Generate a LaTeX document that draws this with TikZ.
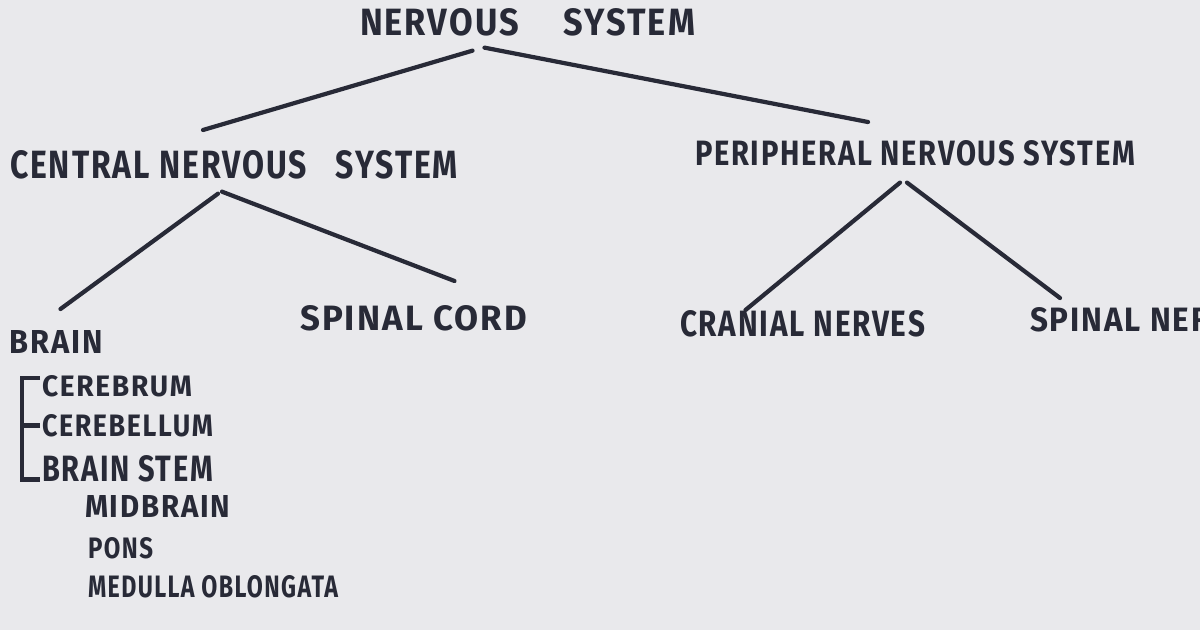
\documentclass[tikz,border=0pt]{standalone}
\usepackage{fontspec}
\usepackage{graphicx}
\setmainfont{Fira Sans}[LetterSpace=6]
\usetikzlibrary{calc}
\newlength\px
\setlength\px{0.01cm}
\newcommand{\lbl}[3]{\resizebox{#1\px}{#2\px}{\bfseries #3}}
\definecolor{paper}{RGB}{233,233,236}
\definecolor{ink}{RGB}{40,42,55}
\tikzset{
  lab/.style={anchor=north west, inner sep=0pt, outer sep=0pt, text=ink},
  wire/.style={draw=ink, line width=1.2pt, line cap=round},
  brk/.style={draw=ink, line width=1.3pt}
}
\begin{document}
\begin{tikzpicture}[x=0.01cm,y=-0.01cm]
\fill[paper] (0,0) rectangle (1200,630);
\useasboundingbox (0,0) rectangle (1200,630);
\clip (0,0) rectangle (1200,630);
% labels
\node[lab] (ns) at (360,8) {\lbl{335}{27}{NERVOUS\hspace{1.3em}SYSTEM}};
\node[lab] (cns) at (10,150) {\lbl{448}{28}{CENTRAL NERVOUS\hspace{0.9em}SYSTEM}};
\node[lab] (pns) at (695,140) {\lbl{440}{25}{PERIPHERAL NERVOUS SYSTEM}};
\node[lab] (brain) at (10,330) {\lbl{93}{23}{BRAIN}};
\node[lab] (sc) at (300,305) {\lbl{227}{25}{SPINAL CORD}};
\node[lab] (cn) at (680,310) {\lbl{245}{26}{CRANIAL NERVES}};
\node[lab] (sn) at (1030,307) {\lbl{238}{24}{SPINAL NERVES}};
\node[lab] (cbr) at (42,375) {\lbl{150}{21}{CEREBRUM}};
\node[lab] (cbl) at (42,414) {\lbl{171}{22}{CEREBELLUM}};
\node[lab] (bst) at (42,455) {\lbl{171}{26}{BRAIN STEM}};
\node[lab] (mid) at (85,495) {\lbl{145}{22}{MIDBRAIN}};
\node[lab] (pons) at (88,537) {\lbl{65}{21}{PONS}};
\node[lab] (med) at (88,575) {\lbl{250}{22}{MEDULLA OBLONGATA}};
% connectors
\draw[wire] ([shift={(-55,15)}]ns.south) -- ([shift={(-31,-20)}]cns.north);
\draw[wire] ([shift={(-43,12)}]ns.south) -- ([shift={(-47,-18)}]pns.north);
\draw[wire] ([shift={(-16,15)}]cns.south) -- ([shift={(4,-21)}]brain.north);
\draw[wire] ([shift={(-12,13)}]cns.south) -- ([shift={(41,-24)}]sc.north);
\draw[wire] ([shift={(-15,17)}]pns.south) -- ([shift={(-57,0)}]cn.north);
\draw[wire] ([shift={(-8,17)}]pns.south) -- ([shift={(-89,-9)}]sn.north);
% bracket
\draw[brk] ([shift={(-2,3)}]cbr.north west) -- ++(-18,0) coordinate (bt)
  -- ([shift={(-20,-2)}]bst.south west) -- ++(18,0);
\draw[brk] ([shift={(-20,0)}]cbl.west) -- ++(18,0);
\end{tikzpicture}
\end{document}
